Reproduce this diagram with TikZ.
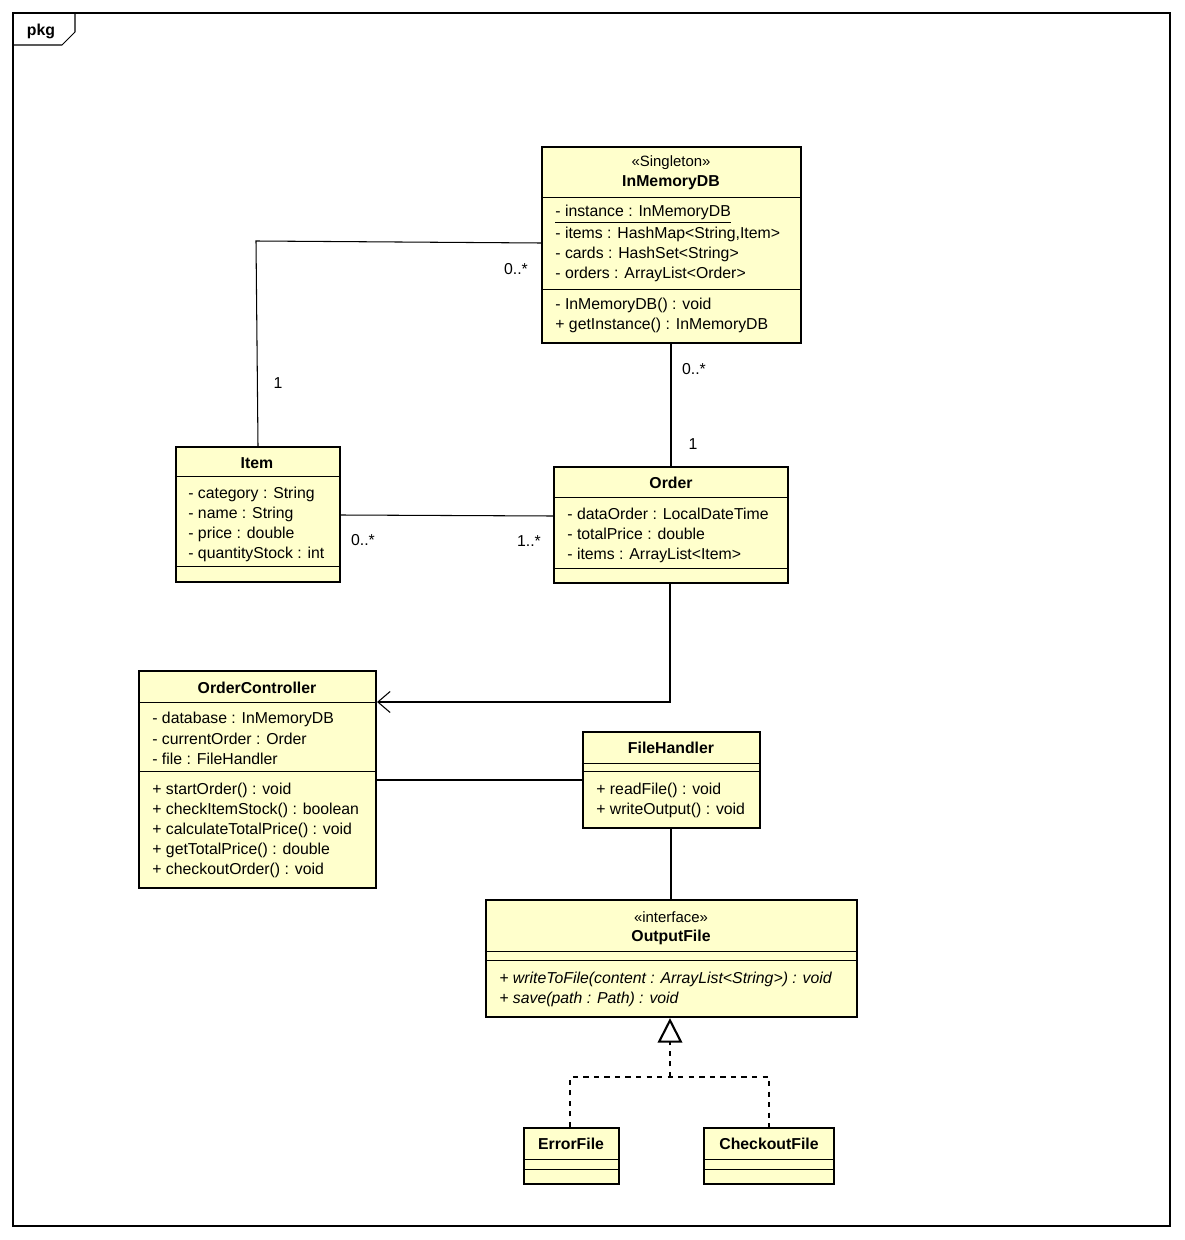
\documentclass[tikz,border=0pt]{standalone}
\usepackage{fontspec}
\setmainfont{Liberation Sans}
\usetikzlibrary{fit,arrows.meta}
\definecolor{clsfill}{RGB}{255,255,204}
\tikzset{
  cls/.style={draw, line width=1.2pt, fill=clsfill, inner sep=0pt},
  sep/.style={line width=0.5pt},
  mem/.style={anchor=west, inner sep=0pt, font=\fontsize{9}{11}\selectfont},
  title/.style={inner sep=0pt, font=\fontsize{9}{11}\selectfont\bfseries},
  stereo/.style={inner sep=0pt, font=\fontsize{8.5}{10}\selectfont},
  lbl/.style={inner sep=0pt, font=\fontsize{9}{11}\selectfont},
  link/.style={line width=0.6pt}
}
\begin{document}
\begin{tikzpicture}[x=0.02cm, y=-0.02cm]
    \useasboundingbox (0,0) rectangle (1184,1240);

    % frame
    \draw[line width=0.6pt] (13,13) rectangle (1170,1226);
    \draw[line width=0.6pt] (13,45) -- (62,45) -- (75,32) -- (75,13);
    \node[lbl, font=\fontsize{9}{11}\selectfont\bfseries] at (41,31) {pkg};

    % InMemoryDB
    \node[cls, fit={(542,147) (801,343)}] (db) {};
    \draw[sep] (db.west |- 0,197) -- (db.east |- 0,197);
    \draw[sep] (db.west |- 0,289) -- (db.east |- 0,289);
    \node[stereo] at (671,163) {<<Singleton>>};
    \node[title] at (671,183) {InMemoryDB};
    \node[mem] at (555,214) {\underline{- instance : InMemoryDB}};
    \node[mem] at (555,234) {- items : HashMap<String,Item>};
    \node[mem] at (555,254) {- cards : HashSet<String>};
    \node[mem] at (555,274) {- orders : ArrayList<Order>};
    \node[mem] at (555,305) {- InMemoryDB() : void};
    \node[mem] at (555,325) {+ getInstance() : InMemoryDB};

    % Item
    \node[cls, fit={(176,447) (340,582)}] (item) {};
    \draw[sep] (item.west |- 0,476) -- (item.east |- 0,476);
    \draw[sep] (item.west |- 0,566) -- (item.east |- 0,566);
    \node[title] at (257,463) {Item};
    \node[mem] at (188,494) {- category : String};
    \node[mem] at (188,514) {- name : String};
    \node[mem] at (188,534) {- price : double};
    \node[mem] at (188,554) {- quantityStock : int};

    % Order
    \node[cls, fit={(554,467) (788,583)}] (order) {};
    \draw[sep] (order.west |- 0,497) -- (order.east |- 0,497);
    \draw[sep] (order.west |- 0,568) -- (order.east |- 0,568);
    \node[title] at (671,483) {Order};
    \node[mem] at (567,514) {- dataOrder : LocalDateTime};
    \node[mem] at (567,534) {- totalPrice : double};
    \node[mem] at (567,555) {- items : ArrayList<Item>};

    % OrderController
    \node[cls, fit={(139,671) (376,888)}] (ctrl) {};
    \draw[sep] (ctrl.west |- 0,702) -- (ctrl.east |- 0,702);
    \draw[sep] (ctrl.west |- 0,771) -- (ctrl.east |- 0,771);
    \node[title] at (257,688) {OrderController};
    \node[mem] at (152,719) {- database : InMemoryDB};
    \node[mem] at (152,739) {- currentOrder : Order};
    \node[mem] at (152,759) {- file : FileHandler};
    \node[mem] at (152,790) {+ startOrder() : void};
    \node[mem] at (152,810) {+ checkItemStock() : boolean};
    \node[mem] at (152,830) {+ calculateTotalPrice() : void};
    \node[mem] at (152,850) {+ getTotalPrice() : double};
    \node[mem] at (152,870) {+ checkoutOrder() : void};

    % FileHandler
    \node[cls, fit={(583,732) (760,828)}] (fh) {};
    \draw[sep] (fh.west |- 0,763) -- (fh.east |- 0,763);
    \draw[sep] (fh.west |- 0,771) -- (fh.east |- 0,771);
    \node[title] at (671,748) {FileHandler};
    \node[mem] at (596,790) {+ readFile() : void};
    \node[mem] at (596,810) {+ writeOutput() : void};

    % OutputFile
    \node[cls, fit={(486,900) (857,1017)}] (out) {};
    \draw[sep] (out.west |- 0,951) -- (out.east |- 0,951);
    \draw[sep] (out.west |- 0,960) -- (out.east |- 0,960);
    \node[stereo] at (671,917) {<<interface>>};
    \node[title] at (671,937) {OutputFile};
    \node[mem] at (499,979) {\itshape + writeToFile(content : ArrayList<String>) : void};
    \node[mem] at (499,999) {\itshape + save(path : Path) : void};

    % ErrorFile, CheckoutFile
    \node[cls, fit={(524,1128) (619,1184)}] (err) {};
    \draw[sep] (err.west |- 0,1159) -- (err.east |- 0,1159);
    \draw[sep] (err.west |- 0,1169) -- (err.east |- 0,1169);
    \node[title] at (571,1144) {ErrorFile};
    \node[cls, fit={(704,1128) (834,1184)}] (chk) {};
    \draw[sep] (chk.west |- 0,1159) -- (chk.east |- 0,1159);
    \draw[sep] (chk.west |- 0,1169) -- (chk.east |- 0,1169);
    \node[title] at (769,1144) {CheckoutFile};

    % associations
    \draw[link] (item.north) -- (256,241) -- (db.west |- 0,243);
    \node[lbl] at (278,383) {1};
    \node[lbl] at (516,269) {0..*};
    \draw[link] (db.south -| 671,0) -- (order.north -| 671,0);
    \node[lbl] at (694,369) {0..*};
    \node[lbl] at (693,444) {1};
    \draw[link] (item.east |- 0,515) -- (order.west |- 0,516);
    \node[lbl] at (363,540) {0..*};
    \node[lbl] at (529,541) {1..*};
    \draw[link, -{Straight Barb[length=7pt,width=12pt]}] (order.south -| 670,0) -- (670,702) -- (ctrl.east |- 0,702);
    \draw[link] (ctrl.east |- 0,780) -- (fh.west |- 0,780);
    \draw[link] (fh.south -| 671,0) -- (out.north -| 671,0);

    % realization
    \coordinate (fork) at (670,1077);
    \draw[link, dashed] (err.north -| 570,0) -- (570,1077) -- (769,1077) -- (chk.north -| 769,0);
    \draw[line width=1.2pt, dashed, -{Triangle[open, length=14pt, width=14pt]}] (fork) -- (out.south -| 670,0);
\end{tikzpicture}
\end{document}
